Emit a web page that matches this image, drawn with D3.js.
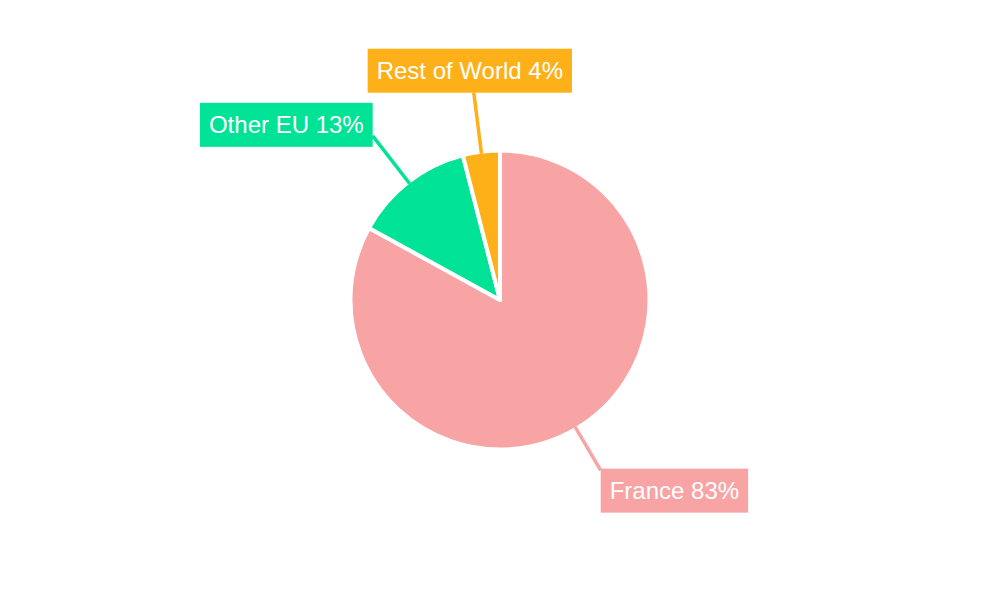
<!DOCTYPE html>
<html>
<head>
<meta charset="utf-8">
<script src="https://cdn.jsdelivr.net/npm/d3@7"></script>
<style>
  body { margin: 0; background: #fff; }
  svg { display: block; font-family: "Liberation Sans", Arial, sans-serif; }
</style>
</head>
<body>
<svg id="chart" width="1000" height="600"></svg>
<script>
// data
const regions = ['France', 'Other EU', 'Rest of World']
const shares = [83, 13, 4]
const colors = ['#f8a4a4', '#00e396', '#feb019']

const width = 1000
const height = 600
const cx = 500
const cy = 300
const radius = 149.5
const fontSize = 24
const boxH = 44
const padX = 9

const data = regions.map((r, i) => ({ region: r, share: shares[i] }))

const color = d3.scaleOrdinal()
  .domain(regions)
  .range(colors)

const pie = d3.pie()
  .sort(null)
  .value(d => d.share)

const arc = d3.arc()
  .innerRadius(0)
  .outerRadius(radius)

const arcs = pie(data)

const svg = d3.select('svg#chart')
const g = svg.append('g').attr('transform', `translate(${cx},${cy})`)

g.selectAll('path.slice')
  .data(arcs)
  .enter()
  .append('path')
  .attr('class', 'slice')
  .attr('d', arc)
  .attr('fill', d => color(d.data.region))
  .attr('stroke', '#fff')
  .attr('stroke-width', 4)
  .attr('stroke-linejoin', 'round')

const mid = d => (d.startAngle + d.endAngle) / 2
// labels sit a bit further out above the pie than below it
const labelRadius = d => 203 + 6 * Math.cos(mid(d))

// leader lines, radial from the rim
g.selectAll('line.leader')
  .data(arcs)
  .enter()
  .append('line')
  .attr('class', 'leader')
  .attr('x1', d => Math.sin(mid(d)) * (radius - 2))
  .attr('y1', d => -Math.cos(mid(d)) * (radius - 2))
  .attr('x2', d => Math.sin(mid(d)) * labelRadius(d))
  .attr('y2', d => -Math.cos(mid(d)) * labelRadius(d))
  .attr('stroke', d => color(d.data.region))
  .attr('stroke-width', 3.5)

const labels = g.selectAll('g.label')
  .data(arcs)
  .enter()
  .append('g')
  .attr('class', 'label')

labels.append('rect')
  .attr('fill', d => color(d.data.region))

labels.append('text')
  .attr('font-size', fontSize)
  .attr('fill', '#fff')
  .text(d => `${d.data.region} ${d.data.share}%`)

labels.each(function (d) {
  const lab = d3.select(this)
  const tw = lab.select('text').node().getComputedTextLength()
  const w = tw + padX * 2
  const sx = Math.sin(mid(d))
  const sy = -Math.cos(mid(d))
  const ax = sx * labelRadius(d)
  const ay = sy * labelRadius(d)
  let x0, y0
  if (Math.abs(sx) < 0.3) {
    // near the top / bottom: box sits above or below the line end
    x0 = ax - w / 2 - 4
    y0 = sy < 0 ? ay - boxH : ay
  } else {
    x0 = sx < 0 ? ax - w : ax
    y0 = ay - boxH / 2 + 19 * sy + 4
  }
  lab.select('rect')
    .attr('x', x0)
    .attr('y', y0)
    .attr('width', w)
    .attr('height', boxH)
  lab.select('text')
    .attr('x', x0 + padX)
    .attr('y', y0 + boxH / 2 + 8.5)
})
</script>
</body>
</html>
